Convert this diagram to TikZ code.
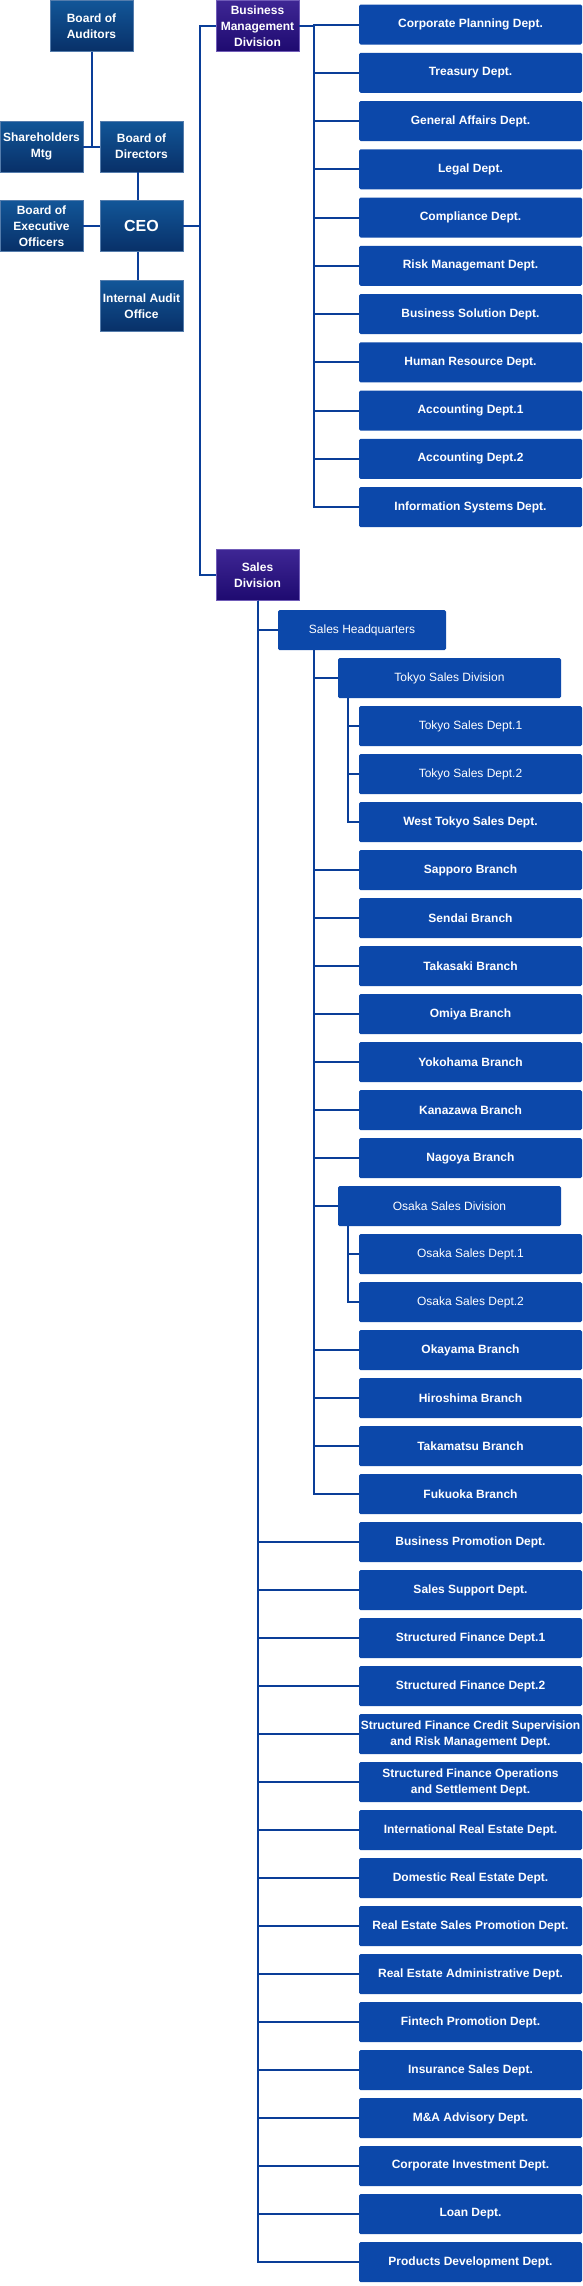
\documentclass[tikz,border=0pt]{standalone}
\usepackage{fontspec}
\setmainfont{Liberation Sans}
\definecolor{deptblue}{RGB}{12,72,170}
\definecolor{linie}{RGB}{10,62,152}
\definecolor{topA}{RGB}{18,86,152}
\definecolor{topB}{RGB}{8,48,104}
\definecolor{topRand}{RGB}{84,124,172}
\definecolor{divA}{RGB}{62,38,148}
\definecolor{divB}{RGB}{30,10,112}
\definecolor{divRand}{RGB}{112,92,184}
\begin{document}
\begin{tikzpicture}[
    x=1pt, y=-1pt,
    top/.style={rectangle, draw=topRand, top color=topA, bottom color=topB, minimum width=83pt, minimum height=51pt, inner sep=0pt, align=center, text=white, font=\bfseries\fontsize{12}{16}\selectfont},
    division/.style={rectangle, draw=divRand, top color=divA, bottom color=divB, minimum width=83pt, minimum height=51pt, inner sep=0pt, align=center, text=white, font=\bfseries\fontsize{12}{16}\selectfont},
    dept/.style={rectangle, fill=deptblue, rounded corners=1.5pt, minimum width=223pt, minimum height=40pt, inner sep=0pt, align=center, text=white, font=\bfseries\fontsize{12}{16}\selectfont},
    subdiv/.style={dept, font=\fontsize{12}{16}\selectfont},
    linie/.style={draw=linie, line width=2pt}
]
\useasboundingbox (0,0) rectangle (582,2286);

% Leitung
\node[top] at (91.5,26) (aud) {Board of\\Auditors};
\node[top] at (41.5,146.5) (share) {Shareholders\\Mtg};
\node[top] at (141.5,146.5) (bod) {Board of\\Directors};
\node[top] at (41.5,226) (exec) {Board of\\Executive\\Officers};
\node[top, font=\bfseries\fontsize{16}{18}\selectfont] at (141.5,226) (ceo) {CEO};
\node[top] at (141.5,306) (audit) {Internal Audit\\Office};
\coordinate (trunk) at (200,226);

% Business Management Division
\node[division] at (257.5,26) (bmd) {Business\\Management\\Division};
\node[dept] at (470.5,24.5) (corp) {Corporate Planning Dept.};
\node[dept] at (470.5,72.75) (treas) {Treasury Dept.};
\node[dept] at (470.5,121) (genaff) {General Affairs Dept.};
\node[dept] at (470.5,169.25) (legal) {Legal Dept.};
\node[dept] at (470.5,217.5) (compl) {Compliance Dept.};
\node[dept] at (470.5,265.75) (risk) {Risk Managemant Dept.};
\node[dept] at (470.5,314) (bussol) {Business Solution Dept.};
\node[dept] at (470.5,362.25) (hr) {Human Resource Dept.};
\node[dept] at (470.5,410.5) (acc1) {Accounting Dept.1};
\node[dept] at (470.5,458.75) (acc2) {Accounting Dept.2};
\node[dept] at (470.5,507) (infosys) {Information Systems Dept.};
\coordinate (bmdbus) at (314,26);

% Sales Division
\node[division] at (257.5,575) (sd) {Sales\\Division};
\node[subdiv, minimum width=168pt] at (362,630) (hq) {Sales Headquarters};
\node[subdiv] at (449.5,678) (tokyo) {Tokyo Sales Division};
\node[subdiv] at (470.5,726) (tokyo1) {Tokyo Sales Dept.1};
\node[subdiv] at (470.5,774) (tokyo2) {Tokyo Sales Dept.2};
\node[dept] at (470.5,822) (westtokyo) {West Tokyo Sales Dept.};
\node[dept] at (470.5,870) (sapporo) {Sapporo Branch};
\node[dept] at (470.5,918) (sendai) {Sendai Branch};
\node[dept] at (470.5,966) (takasaki) {Takasaki Branch};
\node[dept] at (470.5,1014) (omiya) {Omiya Branch};
\node[dept] at (470.5,1062) (yokohama) {Yokohama Branch};
\node[dept] at (470.5,1110) (kanazawa) {Kanazawa Branch};
\node[dept] at (470.5,1158) (nagoya) {Nagoya Branch};
\node[subdiv] at (449.5,1206) (osaka) {Osaka Sales Division};
\node[subdiv] at (470.5,1254) (osaka1) {Osaka Sales Dept.1};
\node[subdiv] at (470.5,1302) (osaka2) {Osaka Sales Dept.2};
\node[dept] at (470.5,1350) (okayama) {Okayama Branch};
\node[dept] at (470.5,1398) (hiroshima) {Hiroshima Branch};
\node[dept] at (470.5,1446) (takamatsu) {Takamatsu Branch};
\node[dept] at (470.5,1494) (fukuoka) {Fukuoka Branch};
\node[dept] at (470.5,1542) (busprom) {Business Promotion Dept.};
\node[dept] at (470.5,1590) (salessup) {Sales Support Dept.};
\node[dept] at (470.5,1638) (sf1) {Structured Finance Dept.1};
\node[dept] at (470.5,1686) (sf2) {Structured Finance Dept.2};
\node[dept] at (470.5,1734) (sfcredit) {Structured Finance Credit Supervision\\and Risk Management Dept.};
\node[dept] at (470.5,1782) (sfops) {Structured Finance Operations\\and Settlement Dept.};
\node[dept] at (470.5,1830) (intre) {International Real Estate Dept.};
\node[dept] at (470.5,1878) (domre) {Domestic Real Estate Dept.};
\node[dept] at (470.5,1926) (resales) {Real Estate Sales Promotion Dept.};
\node[dept] at (470.5,1974) (readmin) {Real Estate Administrative Dept.};
\node[dept] at (470.5,2022) (fintech) {Fintech Promotion Dept.};
\node[dept] at (470.5,2070) (insur) {Insurance Sales Dept.};
\node[dept] at (470.5,2118) (manda) {M\&A Advisory Dept.};
\node[dept] at (470.5,2166) (corpinv) {Corporate Investment Dept.};
\node[dept] at (470.5,2214) (loan) {Loan Dept.};
\node[dept] at (470.5,2262) (proddev) {Products Development Dept.};

% Verbindungen Leitung
\draw[linie] (aud.south) |- (share.east);
\draw[linie] (aud.south) |- (bod.west);
\draw[linie] ([xshift=-4pt]bod.south) -- ([xshift=-4pt]ceo.north);
\draw[linie] (exec.east) -- (ceo.west);
\draw[linie] ([xshift=-4pt]ceo.south) -- ([xshift=-4pt]audit.north);
\draw[linie] (ceo.east) -- (trunk);
\draw[linie] (bmd.west) -| (trunk) |- (sd.west);

% Verbindungen Business Management Division
\draw[linie] (bmd.east) -- (bmdbus) |- (infosys.west);
\foreach \n in {corp,treas,genaff,legal,compl,risk,bussol,hr,acc1,acc2}
    \draw[linie] (bmdbus) |- (\n.west);

% Verbindungen Sales Division
\foreach \n in {hq,busprom,salessup,sf1,sf2,sfcredit,sfops,intre,domre,resales,readmin,fintech,insur,manda,corpinv,loan,proddev}
    \draw[linie] (sd.south) |- (\n.west);
\foreach \n in {tokyo,sapporo,sendai,takasaki,omiya,yokohama,kanazawa,nagoya,osaka,okayama,hiroshima,takamatsu,fukuoka}
    \draw[linie] ([xshift=36pt]hq.south west) |- (\n.west);
\foreach \n in {tokyo1,tokyo2,westtokyo}
    \draw[linie] ([xshift=10pt]tokyo.south west) |- (\n.west);
\foreach \n in {osaka1,osaka2}
    \draw[linie] ([xshift=10pt]osaka.south west) |- (\n.west);
\end{tikzpicture}
\end{document}
